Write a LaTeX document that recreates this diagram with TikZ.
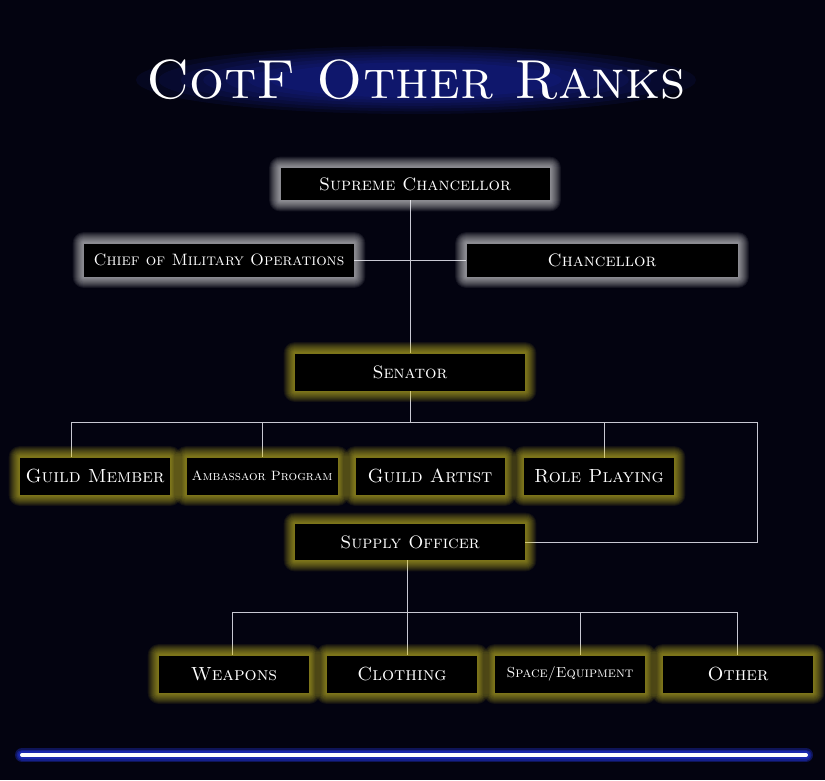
\documentclass[tikz,border=0pt]{standalone}
\usepackage{tikz}
\usetikzlibrary{backgrounds}
\definecolor{bgnavy}{RGB}{3,3,16}
\definecolor{glowyellow}{RGB}{230,215,40}
\definecolor{glowblue}{RGB}{40,60,255}
\tikzset{every picture/.style={line width=0.75pt}}
\tikzset{
  rank/.style={draw=none, fill=black, text=white, minimum height=34pt, inner sep=1pt, font=\fontsize{18}{18}\selectfont\scshape},
  link/.style={draw={rgb,255:red,200; green,200; blue,210}, line width=0.8pt},
}
\newcommand{\haloof}[2]{%
  \foreach \r in {1,...,11}{%
    \fill[#2, opacity=0.07, rounded corners=\r pt] ([shift={(-\r pt,\r pt)}]#1.north west) rectangle ([shift={(\r pt,-\r pt)}]#1.south east);}}

\begin{document}
\begin{tikzpicture}[x=1pt,y=-1pt]
\useasboundingbox (0,0) rectangle (825,780);

% title
\node (title) [text=white, font=\fontsize{55}{55}\selectfont\scshape] at (416,80) {CotF Other Ranks};

% nodes
\node (supreme) [rank, minimum width=269pt, minimum height=32pt] at (415,184) {Supreme Chancellor};
\node (chief) [rank, minimum width=270pt, minimum height=33pt, font=\fontsize{16.5}{17}\selectfont\scshape] at (219,260) {Chief of Military Operations};
\node (chancellor) [rank, minimum width=271pt, minimum height=33pt] at (602,260) {Chancellor};
\node (senator) [rank, minimum width=230pt, minimum height=37pt] at (410,372) {Senator};
\node (member) [rank, minimum width=150pt, minimum height=37pt, font=\fontsize{19}{19}\selectfont\scshape] at (95,476) {Guild Member};
\node (ambassador) [rank, minimum width=151pt, minimum height=37pt, font=\fontsize{13.5}{14}\selectfont\scshape] at (262,476) {Ambassaor Program};
\node (artist) [rank, minimum width=149pt, minimum height=37pt, font=\fontsize{19}{19}\selectfont\scshape] at (430,476) {Guild Artist};
\node (roleplay) [rank, minimum width=150pt, minimum height=37pt, font=\fontsize{19}{19}\selectfont\scshape] at (599,476) {Role Playing};
\node (supply) [rank, minimum width=230pt, minimum height=36pt] at (410,542) {Supply Officer};
\node (weapons) [rank, minimum width=150pt, minimum height=37pt, font=\fontsize{19}{19}\selectfont\scshape] at (234,674) {Weapons};
\node (clothing) [rank, minimum width=150pt, minimum height=37pt, font=\fontsize{19}{19}\selectfont\scshape] at (402,674) {Clothing};
\node (space) [rank, minimum width=150pt, minimum height=37pt, font=\fontsize{14.5}{15}\selectfont\scshape] at (570,674) {Space/Equipment};
\node (other) [rank, minimum width=150pt, minimum height=37pt, font=\fontsize{19}{19}\selectfont\scshape] at (738,674) {Other};

\begin{pgfonlayer}{background}
\fill[bgnavy] (0,0) rectangle (825,780);
% glow behind the title
\foreach \s in {1.00,0.92,...,0.5}{
  \fill[glowblue, opacity=0.07] (title.center) ellipse ({\s*280pt} and {\s*34pt});}

% connectors
\coordinate (senjoin) at (410,422);
\coordinate (leftend) at (71,422);
\coordinate (rightend) at (757,422);
\coordinate (supjoin) at (407,612);
\draw[link] (supreme.south -| senator.north) -- (senator.north);
\draw[link] (chief.east) -- (chancellor.west);
\draw[link] (senator.south) -- (senjoin);
\draw[link] (leftend) -- (rightend) |- (supply.east);
\draw[link] (leftend) -- (leftend |- member.north);
\draw[link] (262,422) -- (ambassador.north);
\draw[link] (604,422) -- (604,458);
\draw[link] (407,560) -- (supjoin);
\draw[link] (232,612) -- (737,612);
\foreach \x in {232,407,580,737}{\draw[link] (\x,612) -- (\x,655);}

% halos
\foreach \n in {supreme,chief,chancellor}{\haloof{\n}{white}}
\foreach \n in {senator,member,ambassador,artist,roleplay,supply,weapons,clothing,space,other}{\haloof{\n}{glowyellow}}
\end{pgfonlayer}

% bottom bar
\coordinate (barl) at (22,755);
\coordinate (barr) at (806,755);
\foreach \w in {14,11,8}{\draw[glowblue, opacity=0.3, line width=\w pt, line cap=round] (barl) -- (barr);}
\draw[white, line width=4pt, line cap=round] (barl) -- (barr);
\end{tikzpicture}
\end{document}
